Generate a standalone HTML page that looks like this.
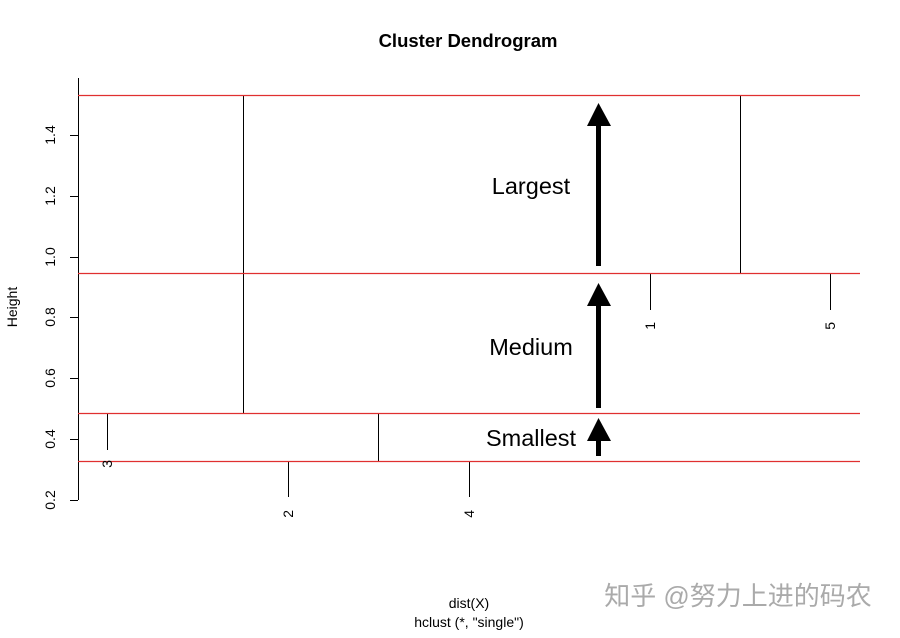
<!DOCTYPE html>
<html><head><meta charset="utf-8"><style>body{margin:0;background:#fff}</style></head><body>
<svg width="900" height="633" xmlns="http://www.w3.org/2000/svg" font-family="Liberation Sans, Arial, sans-serif">
<rect width="900" height="633" fill="#fff"/>
<text x="468" y="47" font-size="18.5" font-weight="bold" text-anchor="middle">Cluster Dendrogram</text>
<g stroke="#000" stroke-width="1" fill="none">
<line x1="78.5" y1="78" x2="78.5" y2="500"/>
<line x1="70" y1="500.5" x2="78" y2="500.5"/>
<line x1="70" y1="439.5" x2="78" y2="439.5"/>
<line x1="70" y1="378.5" x2="78" y2="378.5"/>
<line x1="70" y1="317.5" x2="78" y2="317.5"/>
<line x1="70" y1="257.5" x2="78" y2="257.5"/>
<line x1="70" y1="196.5" x2="78" y2="196.5"/>
<line x1="70" y1="135.5" x2="78" y2="135.5"/>
</g>
<g font-size="14" text-anchor="middle">
<text transform="translate(55,500) rotate(-90)">0.2</text>
<text transform="translate(55,439) rotate(-90)">0.4</text>
<text transform="translate(55,378) rotate(-90)">0.6</text>
<text transform="translate(55,317) rotate(-90)">0.8</text>
<text transform="translate(55,257) rotate(-90)">1.0</text>
<text transform="translate(55,196) rotate(-90)">1.2</text>
<text transform="translate(55,135) rotate(-90)">1.4</text>
<text transform="translate(17,307) rotate(-90)">Height</text>
</g>
<g stroke="#000" stroke-width="1" fill="none">
<polyline points="107.5,450 107.5,413.5 378.5,413.5 378.5,461"/>
<polyline points="288.5,497 288.5,461.5 469.5,461.5 469.5,497"/>
<polyline points="243.5,413 243.5,95.5 740.5,95.5 740.5,273"/>
<polyline points="650.5,310 650.5,273.5 830.5,273.5 830.5,310"/>
</g>
<g stroke="#e03030" stroke-width="1.2">
<line x1="78" y1="95.5" x2="860" y2="95.5"/>
<line x1="78" y1="273.5" x2="860" y2="273.5"/>
<line x1="78" y1="413.5" x2="860" y2="413.5"/>
<line x1="78" y1="461.5" x2="860" y2="461.5"/>
</g>
<g font-size="14">
<text transform="translate(112,460) rotate(-90)" text-anchor="end">3</text>
<text transform="translate(293,510) rotate(-90)" text-anchor="end">2</text>
<text transform="translate(474,510) rotate(-90)" text-anchor="end">4</text>
<text transform="translate(655,322) rotate(-90)" text-anchor="end">1</text>
<text transform="translate(835,322) rotate(-90)" text-anchor="end">5</text>
</g>
<g fill="#000">
<rect x="596" y="122" width="5" height="144"/>
<polygon points="598.5,103 587,126 611,126"/>
<rect x="596" y="302" width="5" height="106"/>
<polygon points="598.5,283 587,306 611,306"/>
<rect x="596" y="438" width="5" height="18"/>
<polygon points="598.5,418 587,441 611,441"/>
</g>
<g font-size="23.5" text-anchor="middle">
<text x="531" y="194">Largest</text>
<text x="531" y="355">Medium</text>
<text x="531" y="446">Smallest</text>
</g>
<g font-size="14" text-anchor="middle">
<text x="469" y="608">dist(X)</text>
<text x="469" y="627">hclust (*, "single")</text>
</g>
<text x="738" y="605" font-size="26" fill="#aaa" text-anchor="middle" font-family="Liberation Sans, Noto Sans CJK SC, sans-serif">知乎 @努力上进的码农</text>
</svg>
</body></html>
